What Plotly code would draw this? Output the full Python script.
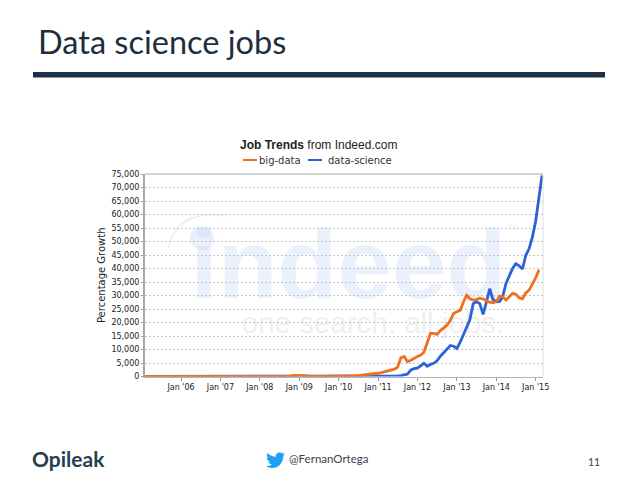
import pandas as pd
import plotly.graph_objects as go

W, H = 638, 478

# monthly, Feb 2005 - Mar 2015
months = pd.date_range("2005-02-01", "2015-03-01", freq="MS")

big_data = [0] * 44 + [100, 300, 450, 450, 400, 250, 100, 50, 50, 50, 50, 50, 100, 100, 150, 150, 200, 200, 250, 300, 300, 350, 450, 600, 750, 900] + [
    # the flat years end here, Jan 2011 onwards
    1000, 1200, 1400, 1700, 2000, 2300, 2700, 3400, 6900, 7400, 5500, 6000,
    6800, 7400, 7900, 9000, 12500, 16000, 16000, 15600, 17000, 18000, 19000, 20800,
    23300, 24000, 24500, 27500, 30100, 28800, 28300, 28500, 29000, 28700, 28000, 27500,
    27300, 27800, 29800, 29500, 28300, 29500, 30800, 30500, 29200, 28800, 31000, 32000,
    34000, 36500, 39500,
]
big_data = big_data[-len(months):]

data_science = [0] * 71 + [
    0, 0, 50, 50, 100, 150, 200, 300, 500, 900, 2400, 2900,
    3100, 4200, 4900, 3800, 4500, 4900, 5800, 7500, 8800, 10000, 11500, 11200,
    10400, 12800, 15500, 18000, 21000, 27000, 27700, 27000, 23000, 27500, 32500, 28500,
    27700, 27800, 29500, 34500, 37500, 40000, 41800, 41000, 39800, 44800, 47300, 51500,
    57500, 67000, 74500,
]
data_science = data_science[-len(months):]

y_ticks = list(range(0, 75001, 5000))
x_ticks = [f"{y}-01-01" for y in range(2006, 2016)]
x_labels = [f"Jan '{str(y)[2:]}" for y in range(2006, 2016)]

ORANGE = "#f0701f"
BLUE = "#2b62d6"
NAVY = "#1c3144"
PALE = "#eaf0fb"


def px(x):
    return x / W


def py(y):
    return 1 - y / H


def note(text, x, y, size, color, font, anchor="left"):
    return dict(text=text, x=px(x), y=py(y), xref="paper", yref="paper", showarrow=False,
                xanchor=anchor, yanchor="middle", font=dict(size=size, color=color, family=font))


fig = go.Figure()

# watermark goes first so that the lines are drawn over it
fig.add_trace(go.Scatter(x=["2010-04-01"], y=[38300], mode="text", text=["<b>indeed</b>"], hoverinfo="skip",
                         textfont=dict(size=98, color="rgba(190,212,245,0.33)", family="Liberation Sans"), showlegend=False))
fig.add_trace(go.Scatter(x=["2010-11-15"], y=[19000], mode="text", text=["one search. all jobs."], hoverinfo="skip",
                         textfont=dict(size=29.5, color="rgba(200,200,200,0.3)", family="Liberation Sans"), showlegend=False))

fig.add_trace(go.Scatter(x=months, y=data_science, mode="lines", name="data-science", cliponaxis=False,
                         line=dict(color=BLUE, width=2.8), showlegend=False))
fig.add_trace(go.Scatter(x=months, y=big_data, mode="lines", name="big-data", cliponaxis=False,
                         line=dict(color=ORANGE, width=2.8), showlegend=False))

fig.update_xaxes(domain=[px(145), px(543)], range=["2005-02-01", "2015-03-10"], tickvals=x_ticks, ticktext=x_labels,
                 automargin=False, showgrid=False, showline=True, linecolor="#b5b5b5", linewidth=1, ticks="outside", ticklen=3,
                 tickcolor="#999999", tickangle=0, tickfont=dict(size=8, color="#222222", family="DejaVu Sans"))
fig.update_yaxes(domain=[py(376.5), py(174)], range=[0, 75000], tickvals=y_ticks, tickformat=",d",
                 automargin=False, showgrid=True, gridcolor="#c4c4c4", griddash="2px,2px", gridwidth=1, zeroline=False,
                 showline=True, linecolor="#a8a8a8", linewidth=2, ticks="outside", ticklen=2, tickcolor="#999999",
                 tickfont=dict(size=8, color="#222222", family="DejaVu Sans"),
                 title=dict(text="Percentage Growth", standoff=4, font=dict(size=10, color="#222222", family="DejaVu Sans")))

# twitter bird, 24x24 icon grid
bird = [(24, 4.6), (21.2, 5.3), (23.3, 2.6), (20.2, 3.8), (18.6, 2.6), (16.4, 2.4), (14, 3.4), (12.3, 5.5), (12, 8.1),
        (7.6, 7), (4.2, 5.2), (1.6, 3.2), (1, 5.6), (1.6, 8), (3.2, 9.7), (1, 9.1), (1.6, 11.8), (4.9, 14), (2.7, 14.1),
        (4.2, 16.2), (7.3, 17.5), (4.4, 19.2), (0, 19.6), (3.5, 21.2), (7.5, 21.9), (12.5, 21.2), (16.6, 18.7),
        (19.7, 14.8), (21.4, 10), (21.5, 7)]
bird_path = "M" + " L".join(f"{px(266 + bx * 0.8):.4f},{py(450.5 + by * 0.8):.4f}" for bx, by in bird) + " Z"

# arc over the i of the watermark
arc_path = f"M{px(168):.4f},{py(248):.4f} Q{px(178):.4f},{py(208):.4f} {px(226):.4f},{py(216):.4f}"

fig.update_layout(
    width=W, height=H, margin=dict(l=0, r=0, t=0, b=0, pad=0), paper_bgcolor="white", plot_bgcolor="white",
    font=dict(family="DejaVu Sans"),
    shapes=[
        # slide rule under the heading
        dict(type="rect", xref="paper", yref="paper", x0=px(33), x1=px(605), y0=py(77.5), y1=py(72), fillcolor=NAVY, line_width=0),
        # frame of the plot
        dict(type="line", xref="paper", yref="paper", x0=px(145), x1=px(543), y0=py(174), y1=py(174), line=dict(color="#aaaaaa", width=1)),
        dict(type="line", xref="paper", yref="paper", x0=px(543), x1=px(543), y0=py(174), y1=py(376.5), line=dict(color="#dddddd", width=1)),
        # watermark logo parts
        dict(type="path", xref="paper", yref="paper", path=arc_path, line=dict(color=PALE, width=2), layer="below"),
        dict(type="circle", xref="paper", yref="paper", x0=px(190), x1=px(214), y0=py(250), y1=py(226), fillcolor=PALE, line_width=0, layer="below"),
        # legend keys
        dict(type="line", xref="paper", yref="paper", x0=px(243), x1=px(257), y0=py(160), y1=py(160), line=dict(color=ORANGE, width=2)),
        dict(type="line", xref="paper", yref="paper", x0=px(308), x1=px(322), y0=py(160), y1=py(160), line=dict(color=BLUE, width=2)),
        dict(type="path", xref="paper", yref="paper", path=bird_path, fillcolor="#1da1f2", line_width=0),
    ],
    annotations=[
        note("Data science jobs", 36, 42, 32.5, "#1b2f3f", "Lato"),
        note("<b>Job Trends</b> from Indeed.com", 318, 145, 12, "#222222", "Liberation Sans", "center"),
        note("big-data", 257, 160, 10, "#333333", "DejaVu Sans"),
        note("data-science", 326, 160, 10, "#333333", "DejaVu Sans"),
        note("TM", 513, 227, 7, "#e8e8e8", "Liberation Sans", "center"),
        note("<b>Opileak</b>", 30, 458, 21, "#27404f", "Lato"),
        note("@FernanOrtega", 287, 458, 11.5, "#39424a", "Lato"),
        note("11", 594, 462, 10.5, "#39424a", "Lato", "center"),
    ],
)

# the default page margin would push the figure past the window
fig.write_html("out.html", config={"displayModeBar": False},
               post_script="document.body.style.margin='0';document.documentElement.style.overflow='hidden';")
